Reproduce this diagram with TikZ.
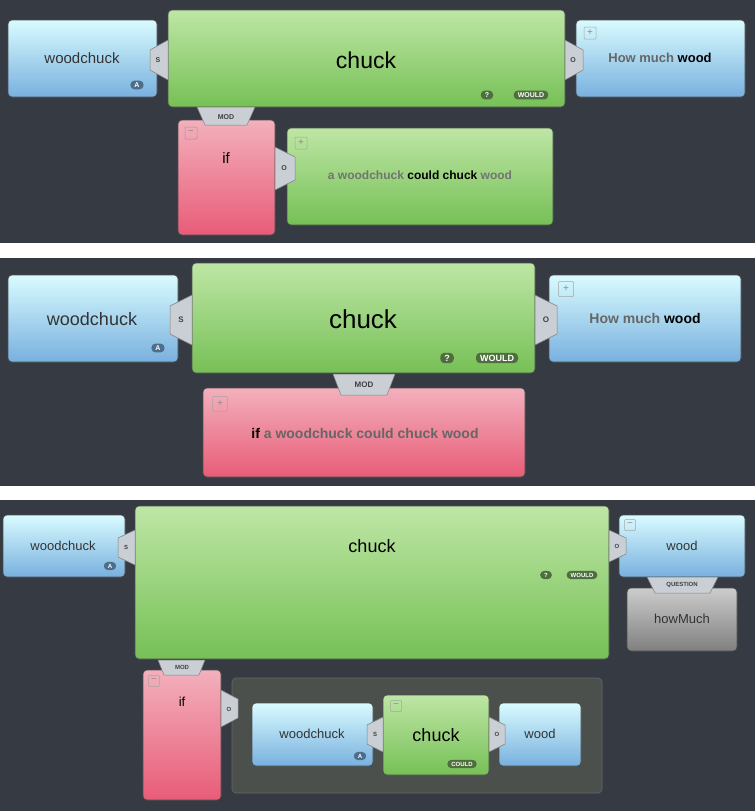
\documentclass[tikz,border=0pt]{standalone}
\usepackage{fontspec}
\setmainfont{Liberation Sans}
\usetikzlibrary{calc}
\definecolor{bg}{HTML}{363B43}
\definecolor{tabc}{HTML}{C9CFD4}
\definecolor{pill}{HTML}{4E6E3E}
\definecolor{apill}{HTML}{4C6E8A}
\newcommand\bx[6]{\node[#6, minimum width={(#4-#2)*1pt}, minimum height={(#5-#3)*1pt}] (#1) at ({(#2+#4)/2},{(#3+#5)/2}) {};}
\newcommand\fs[1]{\fontsize{#1}{#1}\selectfont}
\tikzset{
 base/.style={rounded corners=4pt, inner sep=0pt, draw=black!70, line width=0.6pt},
 blue/.style={base, top color=blue!10!cyan!15!white, bottom color={rgb,255:red,120;green,176;blue,222}},
 green/.style={base, top color={rgb,255:red,190;green,230;blue,165}, bottom color={rgb,255:red,118;green,192;blue,86}},
 red/.style={base, top color={rgb,255:red,243;green,176;blue,188}, bottom color={rgb,255:red,232;green,92;blue,120}},
 gray/.style={base, top color=black!20, bottom color=black!50},
 cont/.style={base, fill={rgb,255:red,75;green,80;blue,76}, draw=black!60},
 tab/.style={fill=tabc, draw=black!50, line width=0.5pt},
 tl/.style={font=\fs{7}\bfseries, text=black!75},
 pl/.style={fill=pill, rounded corners=4pt, text=white, font=\fs{7}\bfseries, inner xsep=4pt, inner ysep=2pt},
 al/.style={pl, fill=apill},
 sq/.style={draw=black!35, line width=0.5pt, minimum size=12pt, inner sep=0pt, font=\fs{10}, text=black!45, rounded corners=1pt},
 txt/.style={text=black!80},
}
\begin{document}
\begin{tikzpicture}[x=1pt,y=-1pt]
\useasboundingbox (0,0) rectangle (755,811);
\fill[white] (0,0) rectangle (755,811);
\fill[bg] (0,0) rectangle (755,243);
\fill[bg] (0,258) rectangle (755,486);
\fill[bg] (0,500) rectangle (755,811);
% ---------- panel 1
\bx{wc1}{8}{20}{157}{97}{blue}
\node[txt,font=\fs{15}] at (82,58) {woodchuck};
\node[al] at (137,85) {A};
\bx{ch1}{168}{10}{565}{107}{green}
\node[font=\fs{23}] at (366,60) {chuck};
\node[pl] at (487,95) {?}; \node[pl] at (531,95) {WOULD};
\draw[tab] (168,40) -- (150,50) -- (150,70) -- (168,80) -- cycle; \node[tl] at (158,60) {S};
\bx{hw1}{576}{20}{745}{97}{blue}
\draw[tab] (565,40) -- (583,50) -- (583,70) -- (565,80) -- cycle; \node[tl] at (573,60) {O};
\node[sq] at (590,33) {+};
\node[text=black!60,font=\fs{13}\bfseries] at (660,58) {How much \textcolor{black}{wood}};
\bx{if1}{178}{120}{275}{235}{red}
\draw[tab] (197,107) -- (255,107) -- (247,125) -- (205,125) -- cycle; \node[tl] at (226,117) {MOD};
\node[sq,draw=black!40] at (191,133) {−};
\node[font=\fs{15}] at (226,158) {if};
\bx{gr1}{287}{128}{553}{225}{green}
\draw[tab] (275,147) -- (295,157) -- (295,180) -- (275,190) -- cycle; \node[tl] at (284,168) {O};
\node[sq] at (301,143) {+};
\node[text=black!55,font=\fs{12}\bfseries] at (420,175) {a woodchuck \textcolor{black}{could chuck} wood};
% ---------- panel 2
\bx{wc2}{8}{275}{178}{362}{blue}
\node[txt,font=\fs{18}] at (92,319) {woodchuck};
\node[al] at (158,348) {A};
\bx{ch2}{192}{263}{535}{373}{green}
\node[font=\fs{26}] at (363,319) {chuck};
\node[pl,font=\fs{9}\bfseries] at (447,358) {?}; \node[pl,font=\fs{9}\bfseries] at (497,358) {WOULD};
\draw[tab] (192,295) -- (170,306) -- (170,334) -- (192,345) -- cycle; \node[tl,font=\fs{8}\bfseries] at (181,320) {S};
\bx{hw2}{549}{275}{741}{362}{blue}
\draw[tab] (535,295) -- (557,306) -- (557,334) -- (535,345) -- cycle; \node[tl,font=\fs{8}\bfseries] at (546,320) {O};
\node[sq,minimum size=15pt] at (566,289) {+};
\node[text=black!60,font=\fs{14}\bfseries] at (645,318) {How much \textcolor{black}{wood}};
\bx{if2}{203}{388}{525}{477}{red}
\draw[tab] (333,374) -- (395,374) -- (387,395) -- (341,395) -- cycle; \node[tl,font=\fs{8}\bfseries] at (364,385) {MOD};
\node[sq,minimum size=15pt] at (220,404) {+};
\node[text=black!60,font=\fs{14}\bfseries] at (365,433) {\textcolor{black}{if} a woodchuck could chuck wood};
% ---------- panel 3
\bx{wc3}{3}{515}{125}{577}{blue}
\node[txt,font=\fs{13}] at (63,546) {woodchuck};
\node[al,font=\fs{6}\bfseries] at (110,566) {A};
\bx{ch3}{135}{506}{609}{659}{green}
\node[font=\fs{18}] at (372,546) {chuck};
\node[pl,font=\fs{6}\bfseries] at (546,575) {?}; \node[pl,font=\fs{6}\bfseries] at (582,575) {WOULD};
\draw[tab] (135,530) -- (118,538) -- (118,557) -- (135,565) -- cycle; \node[tl,font=\fs{6}\bfseries] at (126,547) {S};
\bx{wd3}{619}{515}{745}{577}{blue}
\draw[tab] (609,530) -- (626,538) -- (626,554) -- (609,562) -- cycle; \node[tl,font=\fs{6}\bfseries] at (617,546) {O};
\node[sq,minimum size=11pt] at (630,525) {−};
\node[txt,font=\fs{13}] at (682,546) {wood};
\bx{hm3}{627}{588}{737}{651}{gray}
\draw[tab] (647,577) -- (718,577) -- (710,593) -- (655,593) -- cycle; \node[tl,font=\fs{6}\bfseries] at (682,585) {QUESTION};
\node[txt,font=\fs{13}] at (682,619) {howMuch};
\bx{if3}{143}{670}{221}{800}{red}
\draw[tab] (158,660) -- (205,660) -- (199,675) -- (164,675) -- cycle; \node[tl,font=\fs{6}\bfseries] at (182,667) {MOD};
\node[sq,minimum size=11pt] at (154,681) {−};
\node[font=\fs{13}] at (182,702) {if};
\bx{ct3}{232}{678}{602}{793}{cont}
\draw[tab] (221,690) -- (238,699) -- (238,718) -- (221,727) -- cycle; \node[tl,font=\fs{6}\bfseries] at (229,709) {O};
\bx{wc4}{252}{703}{373}{766}{blue}
\node[txt,font=\fs{13}] at (312,734) {woodchuck};
\node[al,font=\fs{6}\bfseries] at (360,756) {A};
\bx{ch4}{383}{695}{489}{775}{green}
\draw[tab] (383,717) -- (367,725) -- (367,744) -- (383,752) -- cycle; \node[tl,font=\fs{6}\bfseries] at (375,734) {S};
\node[sq,minimum size=11pt] at (396,706) {−};
\node[font=\fs{18}] at (436,735) {chuck};
\node[pl,font=\fs{6}\bfseries] at (462,764) {COULD};
\bx{wd4}{499}{703}{581}{766}{blue}
\draw[tab] (489,717) -- (505,725) -- (505,744) -- (489,752) -- cycle; \node[tl,font=\fs{6}\bfseries] at (497,734) {O};
\node[txt,font=\fs{13}] at (540,734) {wood};
\end{tikzpicture}
\end{document}
